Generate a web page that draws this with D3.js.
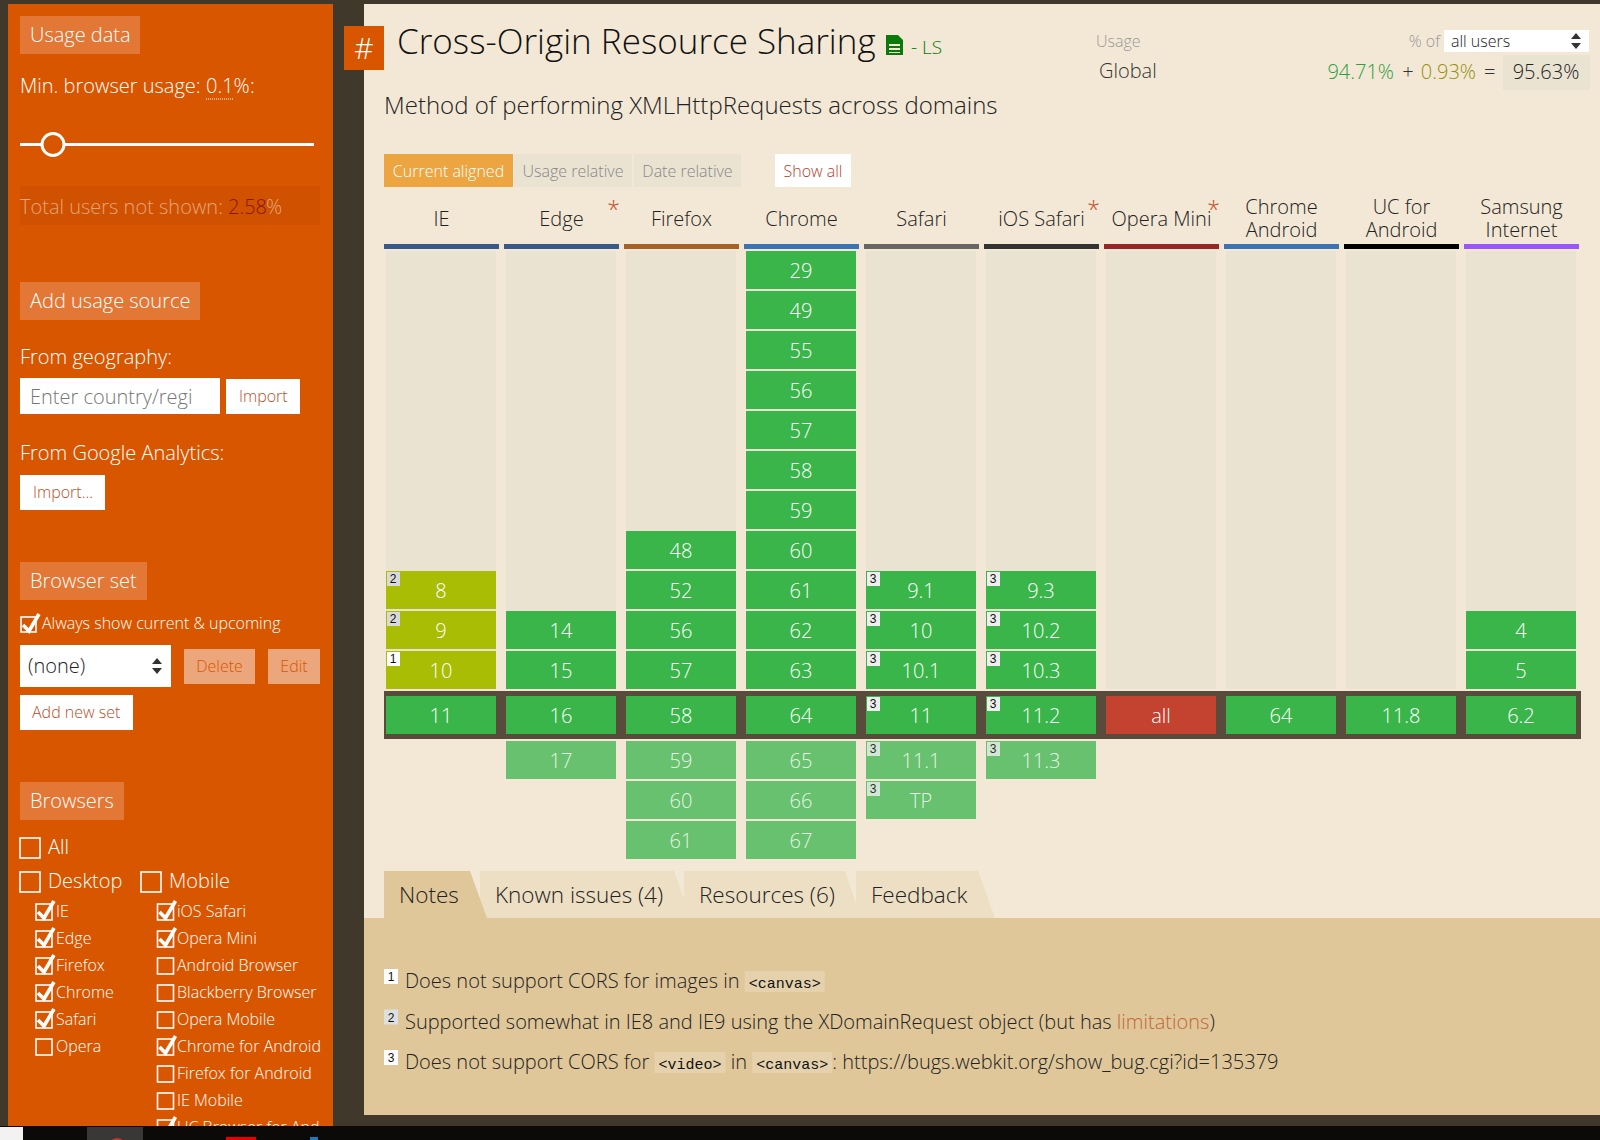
<!DOCTYPE html>
<html>
<head>
<meta charset="utf-8">
<title>Cross-Origin Resource Sharing</title>
<script src="https://cdn.jsdelivr.net/npm/d3@7/dist/d3.min.js"></script>
<style>
  html, body { margin: 0; padding: 0; background: #3f382b; overflow: hidden; }
  svg { display: block; }
  text { font-family: "Open Sans", sans-serif; font-weight: 300; white-space: pre; }
  .mono { font-family: "Liberation Mono", monospace; font-weight: 400; }
  .flag { font-family: "Liberation Sans", sans-serif; font-weight: 400; }
</style>
</head>
<body>
<div id="app"></div>
<script>
// table data
const browsers = ['IE', 'Edge', 'Firefox', 'Chrome', 'Safari', 'iOS Safari', 'Opera Mini', 'Chrome Android', 'UC for Android', 'Samsung Internet']
const headerLines = [['IE'], ['Edge'], ['Firefox'], ['Chrome'], ['Safari'], ['iOS Safari'], ['Opera Mini'], ['Chrome', 'Android'], ['UC for', 'Android'], ['Samsung', 'Internet']]
const asterisks = ['Edge', 'iOS Safari', 'Opera Mini']
const pastVersions = [
  ['8', '9', '10'],
  ['14', '15'],
  ['48', '52', '56', '57'],
  ['29', '49', '55', '56', '57', '58', '59', '60', '61', '62', '63'],
  ['9.1', '10', '10.1'],
  ['9.3', '10.2', '10.3'],
  [],
  [],
  [],
  ['4', '5']
]
const currentVersions = ['11', '16', '58', '64', '11', '11.2', 'all', '64', '11.8', '6.2']
const futureVersions = [
  [],
  ['17'],
  ['59', '60', '61'],
  ['65', '66', '67'],
  ['11.1', 'TP'],
  ['11.3'],
  [],
  [],
  [],
  []
]
const partialVersions = ['IE 8', 'IE 9', 'IE 10']
const unsupportedVersions = ['Opera Mini all']
const versionNotes = {
  'IE 8': 2, 'IE 9': 2, 'IE 10': 1,
  'Safari 9.1': 3, 'Safari 10': 3, 'Safari 10.1': 3, 'Safari 11': 3, 'Safari 11.1': 3, 'Safari TP': 3,
  'iOS Safari 9.3': 3, 'iOS Safari 10.2': 3, 'iOS Safari 10.3': 3, 'iOS Safari 11.2': 3, 'iOS Safari 11.3': 3
}

// sidebar lists
const desktopBrowsers = ['IE', 'Edge', 'Firefox', 'Chrome', 'Safari', 'Opera']
const mobileBrowsers = ['iOS Safari', 'Opera Mini', 'Android Browser', 'Blackberry Browser', 'Opera Mobile', 'Chrome for Android', 'Firefox for Android', 'IE Mobile', 'UC Browser for And']
const checkedBrowsers = ['IE', 'Edge', 'Firefox', 'Chrome', 'Safari', 'iOS Safari', 'Opera Mini', 'Chrome for Android', 'UC Browser for And']

const headerColors = ['#385a8a', '#385a8a', '#a56126', '#3b73b5', '#666666', '#333333', '#992626', '#3b73b5', '#000000', '#9955ff']
const colors = {
  page: '#3f382b', side: '#d95600', sideBox: '#e27736', panel: '#f2e8d5', empty: '#eae3d2', green: '#39b54a',
  future: '#68c16e', partial: '#a8bd04', red: '#c44230', band: '#584b3b', notes: '#dfc799', tab: '#eddfc3'
}

const svg = d3.select('#app').append('svg').attr('width', 1600).attr('height', 1140)

function rect(parent, x, y, w, h, fill) {
  return parent.append('rect').attr('x', x).attr('y', y).attr('width', w).attr('height', h).attr('fill', fill)
}

function label(parent, str, x, y, size, fill, anchor) {
  return parent.append('text').attr('x', x).attr('y', y).attr('font-size', size)
    .attr('fill', fill).attr('text-anchor', anchor || 'start').text(str)
}

function checkbox(parent, x, y, size, checked) {
  rect(parent, x, y, size, size, 'none').attr('stroke', '#fff').attr('stroke-width', 1.6)
  if (checked) {
    parent.append('polyline')
      .attr('points', `${x + 2},${y + 8} ${x + 8},${y + 14} ${x + 18},${y - 3}`)
      .attr('fill', 'none').attr('stroke', '#fff').attr('stroke-width', 3.6)
  }
}

function selectArrows(parent, x, y, fill) {
  parent.append('path')
    .attr('d', `M${x - 5},${y - 2}L${x},${y - 8}L${x + 5},${y - 2}ZM${x - 5},${y + 2}L${x},${y + 8}L${x + 5},${y + 2}Z`)
    .attr('fill', fill)
}

// page pieces
rect(svg, 364, 4, 1236, 1111, colors.panel)

// sidebar
const side = svg.append('g')
svg.append('clipPath').attr('id', 'sideClip').append('rect').attr('x', 8).attr('y', 4).attr('width', 325).attr('height', 1122)
side.attr('clip-path', 'url(#sideClip)')
rect(side, 8, 4, 325, 1122, colors.side)

function sideHeading(str, y, w) {
  rect(side, 20, y, w, 38, colors.sideBox)
  label(side, str, 30, y + 26, 20, '#fff')
}

sideHeading('Usage data', 16, 120)
label(side, 'Min. browser usage:', 20, 93, 20, '#fff')
label(side, '0.1%', 206, 93, 20, '#fff')
label(side, ':', 250, 93, 20, '#fff')
side.append('line').attr('x1', 206).attr('x2', 233).attr('y1', 99).attr('y2', 99)
  .attr('stroke', '#fff').attr('stroke-dasharray', '1 1')
rect(side, 20, 143, 294, 3, '#fff')
side.append('circle').attr('cx', 53).attr('cy', 144.5).attr('r', 11).attr('fill', colors.side)
  .attr('stroke', '#fff').attr('stroke-width', 3)
rect(side, 20, 186, 300, 39, '#d05200')
label(side, 'Total users not shown:', 20, 214, 20, 'rgba(255,255,255,0.48)')
label(side, '2.58', 228, 214, 20, '#8c1500')
label(side, '%', 266, 214, 20, 'rgba(255,255,255,0.48)')

sideHeading('Add usage source', 282, 180)
label(side, 'From geography:', 20, 364, 20, '#fff')
rect(side, 20, 378, 200, 36, '#fff')
label(side, 'Enter country/regi', 30, 404, 20, '#777')
rect(side, 226, 379, 74, 35, '#fff')
label(side, 'Import', 239, 402, 16, '#b5502a')
label(side, 'From Google Analytics:', 20, 460, 20, '#fff')
rect(side, 20, 475, 85, 35, '#fff')
label(side, 'Import...', 33, 498, 16, '#b5502a')

sideHeading('Browser set', 562, 127)
checkbox(side, 21, 617, 15, true)
label(side, 'Always show current & upcoming', 42, 629, 16, '#fff')
rect(side, 20, 645, 151, 42, '#fff')
label(side, '(none)', 28, 673, 20, '#222')
selectArrows(side, 157, 666, '#333')
rect(side, 184, 649, 71, 35, '#eca67c')
label(side, 'Delete', 219.5, 672, 16, '#d95600', 'middle')
rect(side, 268, 649, 52, 35, '#eca67c')
label(side, 'Edit', 294, 672, 16, '#d95600', 'middle')
rect(side, 20, 695, 113, 35, '#fff')
label(side, 'Add new set', 32, 718, 16, '#b5502a')

sideHeading('Browsers', 782, 104)
checkbox(side, 20, 838, 20, false)
label(side, 'All', 48, 854, 20, '#fff')
checkbox(side, 20, 872, 20, false)
label(side, 'Desktop', 48, 888, 20, '#fff')
checkbox(side, 141, 872, 20, false)
label(side, 'Mobile', 169, 888, 20, '#fff')

const listY = d3.scaleLinear().domain([0, 1]).range([917, 944])

function browserList(names, boxX, textX) {
  names.forEach((name, i) => {
    checkbox(side, boxX, listY(i) - 13, 16, checkedBrowsers.includes(name))
    label(side, name, textX, listY(i), 16, '#fff')
  })
}
browserList(desktopBrowsers, 36, 56)
browserList(mobileBrowsers, 157.5, 177)

// title block
rect(svg, 344, 26, 40, 44, colors.side)
label(svg, '#', 364, 59, 30, '#fff', 'middle')
label(svg, 'Cross-Origin Resource Sharing', 397, 54, 35, '#111')
svg.append('path').attr('d', 'M886,35H898L903,40V55H886ZM889,44H900V46H889ZM889,48H900V50H889ZM889,52H900V53H889Z')
  .attr('fill', '#0a7a0a').attr('fill-rule', 'evenodd')
label(svg, '- LS', 911, 54, 19, '#0a7a0a')
label(svg, 'Method of performing XMLHttpRequests across domains', 384, 114, 24, '#222')

// usage block
label(svg, 'Usage', 1096, 47, 16, '#999')
label(svg, 'Global', 1099, 78, 20, '#333')
label(svg, '% of', 1440, 47, 16, '#999', 'end')
rect(svg, 1444, 30, 145, 22, '#fff')
label(svg, 'all users', 1451, 47, 16, '#222')
selectArrows(svg, 1576, 41, '#333')
label(svg, '94.71%', 1394, 79, 20, '#2f9e3f', 'end')
label(svg, '+', 1408, 79, 20, '#333', 'middle')
label(svg, '0.93%', 1476, 79, 20, '#97900c', 'end')
label(svg, '=', 1484, 79, 20, '#333')
rect(svg, 1503, 55, 87, 35, colors.empty)
label(svg, '95.63%', 1546, 79, 20, '#222', 'middle')

// table view buttons
rect(svg, 384, 154, 129, 33, '#eca541')
label(svg, 'Current aligned', 448.5, 177, 16, '#fff', 'middle')
rect(svg, 514, 154, 118, 33, colors.empty)
label(svg, 'Usage relative', 573, 177, 16, '#888', 'middle')
rect(svg, 634, 154, 107, 33, colors.empty)
label(svg, 'Date relative', 687.5, 177, 16, '#888', 'middle')
rect(svg, 775, 154, 76, 33, '#fff')
label(svg, 'Show all', 813, 177, 16, '#b5402a', 'middle')

// support table
const x = d3.scaleBand().domain(browsers).range([384, 1579]).paddingInner(5 / 120)
const cellInset = 2
const cellWidth = 110
const rowHeight = 38
const rowStep = d3.scaleLinear().domain([-11, -1]).range([251, 651])
const rowBump = d => (d > 0 ? 10 : d === 0 ? 5 : 0)
const y = d => rowStep(d) + rowBump(d)
const xCell = d => x(d) + cellInset

const cells = browsers.flatMap((browser, i) => [
  ...pastVersions[i].map((version, j) => ({ browser, version, row: j - pastVersions[i].length, kind: 'past' })),
  { browser, version: currentVersions[i], row: 0, kind: 'current' },
  ...futureVersions[i].map((version, j) => ({ browser, version, row: j + 1, kind: 'future' }))
])

function cellFill(d) {
  const key = `${d.browser} ${d.version}`
  if (partialVersions.includes(key)) return colors.partial
  if (unsupportedVersions.includes(key)) return colors.red
  return d.kind === 'future' ? colors.future : colors.green
}

const table = svg.append('g')

table.selectAll('.head-bar').data(browsers).enter().append('rect')
  .attr('class', 'head-bar')
  .attr('x', d => x(d))
  .attr('y', 244)
  .attr('width', x.bandwidth())
  .attr('height', 5)
  .attr('fill', (d, i) => headerColors[i])

table.selectAll('.head').data(browsers).enter().append('text')
  .attr('class', 'head')
  .attr('text-anchor', 'middle')
  .attr('font-size', 20)
  .attr('fill', '#222')
  .each(function (d, i) {
    const lines = headerLines[i]
    d3.select(this).selectAll('tspan').data(lines).enter().append('tspan')
      .attr('x', x(d) + x.bandwidth() / 2)
      .attr('y', (l, k) => (lines.length === 1 ? 226 : 214 + k * 23))
      .text(l => l)
  })

table.selectAll('.star').data(asterisks).enter().append('text')
  .attr('class', 'star')
  .attr('x', d => x(d) + x.bandwidth() + 1)
  .attr('y', 218)
  .attr('text-anchor', 'end')
  .attr('font-size', 23)
  .attr('fill', '#c44a1e')
  .text('*')

table.selectAll('.col').data(browsers).enter().append('rect')
  .attr('class', 'col')
  .attr('x', xCell)
  .attr('y', y(-11))
  .attr('width', cellWidth)
  .attr('height', y(-1) + rowHeight - y(-11))
  .attr('fill', colors.empty)

rect(table, x.range()[0], y(0) - 5, x.range()[1] + cellInset - x.range()[0], rowHeight + 10, colors.band)

const cell = table.selectAll('.cell').data(cells).enter().append('g').attr('class', 'cell')

cell.append('rect')
  .attr('x', d => xCell(d.browser))
  .attr('y', d => y(d.row))
  .attr('width', cellWidth)
  .attr('height', rowHeight)
  .attr('fill', cellFill)

cell.append('text')
  .attr('x', d => xCell(d.browser) + cellWidth / 2)
  .attr('y', d => y(d.row) + 27)
  .attr('text-anchor', 'middle')
  .attr('font-size', 20)
  .attr('fill', d => (d.kind === 'future' ? 'rgba(255,255,255,0.85)' : '#fff'))
  .text(d => d.version)

const flagFills = { 1: '#ffffff', 2: '#d9d9d9', 3: '#eeeeee' }
const flagged = cells.filter(d => versionNotes[`${d.browser} ${d.version}`])
const flag = table.selectAll('.cell-flag').data(flagged).enter().append('g')
  .attr('class', 'cell-flag')
  .attr('opacity', d => (d.kind === 'future' ? 0.8 : 1))

flag.append('rect')
  .attr('x', d => xCell(d.browser) + 1)
  .attr('y', d => y(d.row) + 1)
  .attr('width', 13)
  .attr('height', 14)
  .attr('fill', d => flagFills[versionNotes[`${d.browser} ${d.version}`]])

flag.append('text')
  .attr('class', 'flag')
  .attr('x', d => xCell(d.browser) + 7)
  .attr('y', d => y(d.row) + 12)
  .attr('text-anchor', 'middle')
  .attr('font-size', 12)
  .attr('fill', '#111')
  .text(d => versionNotes[`${d.browser} ${d.version}`])

// tabs and notes
rect(svg, 364, 918, 1236, 197, colors.notes)

function tab(left, topRight, bottomRight, fill) {
  svg.append('polygon')
    .attr('points', `${left},871 ${topRight},871 ${bottomRight},918 ${left},918`)
    .attr('fill', fill)
}
tab(856, 978, 995, colors.tab)
tab(684, 845, 861, colors.tab)
tab(480, 674, 691, colors.tab)
tab(384, 470, 487, colors.notes)
label(svg, 'Notes', 399, 903, 22.5, '#222')
label(svg, 'Known issues (4)', 495, 903, 22.5, '#222')
label(svg, 'Resources (6)', 699, 903, 22.5, '#222')
label(svg, 'Feedback', 871, 903, 22.5, '#222')

const noteLines = [
  { id: 1, parts: [{ text: 'Does not support CORS for images in ' }, { code: '<canvas>' }] },
  { id: 2, parts: [{ text: 'Supported somewhat in IE8 and IE9 using the XDomainRequest object (but has ' }, { href: 'limitations' }, { text: ')' }] },
  { id: 3, parts: [{ text: 'Does not support CORS for ' }, { code: '<video>' }, { text: ' in ' }, { code: '<canvas>' }, { text: ': https://bugs.webkit.org/show_bug.cgi?id=135379' }] }
]
const noteBaseline = d3.scaleLinear().domain([1, 3]).range([988, 1069])

noteLines.forEach((note) => {
  const base = noteBaseline(note.id)
  rect(svg, 384, base - 19, 14, 15, note.id === 2 ? '#dde0e0' : '#fff')
  label(svg, note.id, 391, base - 7, 12, '#111', 'middle').attr('class', 'flag')
  let cursor = 405
  note.parts.forEach((part) => {
    if (part.code) {
      const chip = rect(svg, cursor, base - 17, 0, 21, 'rgba(255,255,255,0.2)')
      const t = label(svg, part.code, cursor + 4, base, 15, '#111').attr('class', 'mono')
      const w = t.node().getComputedTextLength() + 8
      chip.attr('width', w)
      cursor += w
    } else {
      const t = label(svg, part.text || part.href, cursor, base, 20, part.href ? '#c4663c' : '#222')
      cursor += t.node().getComputedTextLength()
    }
  })
})

// strip of the desktop taskbar at the bottom of the screenshot
rect(svg, 0, 1126, 1600, 14, '#0b0a08')
rect(svg, 0, 1127, 23, 13, '#f2f2f2')
rect(svg, 87, 1127, 56, 13, '#3a3836')
svg.append('circle').attr('cx', 117).attr('cy', 1146).attr('r', 8).attr('fill', '#c0392b')
rect(svg, 226, 1137, 30, 3, '#e60000')
rect(svg, 310, 1137, 8, 3, '#1a7ac0')
</script>
</body>
</html>
